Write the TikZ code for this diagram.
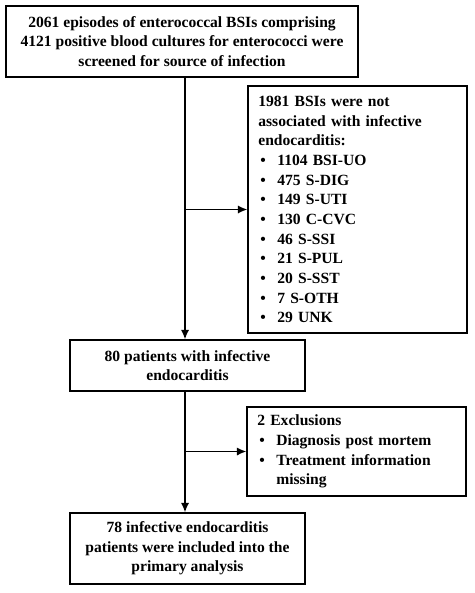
\documentclass[tikz,border=0pt]{standalone}
\usepackage{fontspec}
\setmainfont{Liberation Serif}
\usetikzlibrary{positioning,calc,arrows.meta}
\newcommand{\bitem}[1]{\makebox[0.57cm][l]{\hspace{0.06cm}\textbullet}#1}
\tikzset{
  box/.style={draw,line width=1.2pt,inner sep=0pt,align=center,
    font=\bfseries\fontsize{13.3}{16.8}\selectfont},
  listbox/.style={box,align=left,text width=5.95cm,inner xsep=0.31cm}
}
\begin{document}
\begin{tikzpicture}
\useasboundingbox (0,0) rectangle (14.22,-17.79);
\node[box,minimum width=10.56cm,minimum height=2.13cm] (screen) at (5.46,-1.245)
  {2061 episodes of enterococcal BSIs comprising\\4121 positive blood cultures for enterococci were\\screened for source of infection};
\node[listbox,minimum height=7.41cm] (notie) at (10.725,-6.285)
  {1981 BSIs were not\\associated with infective\\endocarditis:\\
   \bitem{1104 BSI-UO}\\\bitem{475 S-DIG}\\\bitem{149 S-UTI}\\\bitem{130 C-CVC}\\
   \bitem{46 S-SSI}\\\bitem{21 S-PUL}\\\bitem{20 S-SST}\\\bitem{7 S-OTH}\\\bitem{29 UNK}};
\node[box,minimum width=7.05cm,minimum height=1.53cm] (ie) at (5.625,-10.965)
  {80 patients with infective\\endocarditis};
\node[listbox,minimum height=2.67cm] (excl) at (10.695,-13.545)
  {2 Exclusions\\\bitem{Diagnosis post mortem}\\\bitem{Treatment information}\\\makebox[0.57cm]{}missing};
\node[box,minimum width=7.05cm,minimum height=2.13cm] (incl) at (5.625,-16.455)
  {78 infective endocarditis\\patients were included into the\\primary analysis};
\coordinate (trunk) at (5.55,0);
\draw[line width=1.2pt,-{Latex[length=8pt,width=7pt]}] (screen.south -| trunk)--(ie.north -| trunk);
\draw[line width=1.2pt,-{Latex[length=8pt,width=7pt]}] (notie.west -| trunk)--(notie.west);
\draw[line width=1.2pt,-{Latex[length=8pt,width=7pt]}] (ie.south -| trunk)--(incl.north -| trunk);
\draw[line width=1.2pt,-{Latex[length=8pt,width=7pt]}] (excl.west -| trunk)--(excl.west);
\end{tikzpicture}
\end{document}
